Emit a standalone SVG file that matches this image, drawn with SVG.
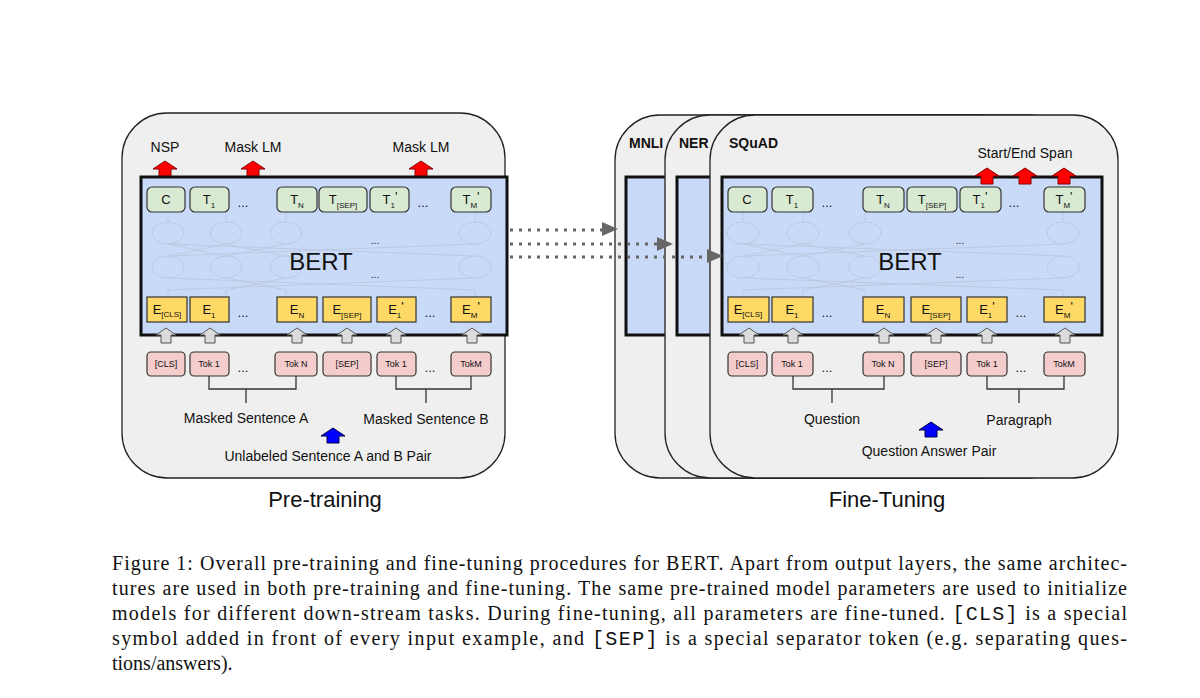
<svg xmlns="http://www.w3.org/2000/svg" width="1200" height="698" viewBox="0 0 1200 698">
<style>
.panel{fill:#efefef;stroke:#222;stroke-width:1.3}
.bert{fill:#c9daf8;stroke:#111;stroke-width:3}
.g{fill:#d9ead3;stroke:#333;stroke-width:1.2}
.y{fill:#ffd966;stroke:#333;stroke-width:1.2}
.p{fill:#f4cccc;stroke:#333;stroke-width:1.2}
.t{font-family:"Liberation Sans",Arial,sans-serif;fill:#111}
.lbl{font-size:14px;text-anchor:middle}
.tk{font-size:13px;text-anchor:middle}
.sm{font-size:9px;text-anchor:middle}
.dots{font-size:13px;text-anchor:middle}
.net{fill:none;stroke:#bccae0;stroke-width:1}
.br{fill:none;stroke:#333;stroke-width:1.3}
.cap{font-family:"Liberation Serif","Times New Roman",serif;font-size:20px;fill:#111}
.mono{font-family:"Liberation Mono","Courier New",monospace}
.dot{stroke:#666;stroke-width:3;stroke-dasharray:3,6;fill:none}
</style>
<defs>
<path id="ga" d="M-5,15 V7 H-10 L0,0 L10,7 H5 V15 Z" fill="#dcdcdc" stroke="#555" stroke-width="1"/>
<path id="ra" d="M-6,16 V8 H-12 L0,0 L12,8 H6 V16 Z" fill="#f00" stroke="#800" stroke-width="1"/>
<path id="ba" d="M-6,15 V8 H-12 L0,0 L12,8 H6 V15 Z" fill="#00f" stroke="#004" stroke-width="1"/>
<path id="ah" d="M0,-7 L16,0 L0,7 Z" fill="#666"/>
</defs>

<!-- Pre-training panel -->
<g id="pretraining">
<rect class="panel" x="122" y="113" width="383" height="365" rx="45"/>
<text class="t lbl" x="165" y="152">NSP</text>
<text class="t lbl" x="253" y="152">Mask LM</text>
<text class="t lbl" x="421" y="152">Mask LM</text>
<use href="#ra" x="165" y="161"/>
<use href="#ra" x="253" y="161"/>
<use href="#ra" x="421" y="161"/>
<rect class="bert" x="141" y="177" width="366" height="158"/>
<g class="net">
<ellipse cx="168" cy="233" rx="16" ry="11"/><ellipse cx="226" cy="233" rx="16" ry="11"/><ellipse cx="286" cy="233" rx="16" ry="11"/><ellipse cx="475" cy="233" rx="16" ry="11"/>
<ellipse cx="168" cy="267" rx="16" ry="11"/><ellipse cx="226" cy="267" rx="16" ry="11"/><ellipse cx="286" cy="267" rx="16" ry="11"/><ellipse cx="475" cy="267" rx="16" ry="11"/>
<path d="M168,244 L475,256 M475,244 L168,256 M226,244 L286,256 M286,244 L226,256 M168,244 L226,256 M226,244 L168,256 M168,278 L475,290 M475,278 L168,290 M226,278 L286,290 M286,278 L226,290 M168,212 V222 M226,212 V222 M286,212 V222 M475,212 V222 M168,290 V297 M226,290 V297 M286,290 V297 M475,290 V297"/>
</g>
<text class="t" x="375" y="244" font-size="10" fill="#aab" text-anchor="middle">...</text>
<text class="t" x="375" y="278" font-size="10" fill="#aab" text-anchor="middle">...</text>
<text class="t" x="321" y="270" font-size="24" text-anchor="middle">BERT</text>
<rect class="g" x="147" y="187" width="38" height="25" rx="5"/><text class="t tk" x="166" y="204">C</text>
<rect class="g" x="190" y="187" width="39" height="25" rx="5"/><text class="t tk" x="209" y="204">T<tspan dy="4" font-size="8">1</tspan></text>
<text class="t dots" x="243" y="207">...</text>
<rect class="g" x="277" y="187" width="40" height="25" rx="5"/><text class="t tk" x="297" y="204">T<tspan dy="4" font-size="8">N</tspan></text>
<rect class="g" x="319" y="187" width="48" height="25" rx="5"/><text class="t tk" x="343" y="204">T<tspan dy="4" font-size="8">[SEP]</tspan></text>
<rect class="g" x="370" y="187" width="39" height="25" rx="5"/><text class="t tk" x="390" y="204">T<tspan dy="4" font-size="8">1</tspan><tspan dy="-7">'</tspan></text>
<text class="t dots" x="423" y="207">...</text>
<rect class="g" x="451" y="187" width="40" height="25" rx="5"/><text class="t tk" x="471" y="204">T<tspan dy="4" font-size="8">M</tspan><tspan dy="-7">'</tspan></text>
<rect class="y" x="147" y="297" width="40" height="25"/><text class="t tk" x="167" y="314">E<tspan dy="3" font-size="8">[CLS]</tspan></text>
<rect class="y" x="190" y="297" width="39" height="25"/><text class="t tk" x="209" y="314">E<tspan dy="4" font-size="8">1</tspan></text>
<text class="t dots" x="243" y="317">...</text>
<rect class="y" x="277" y="297" width="40" height="25"/><text class="t tk" x="297" y="314">E<tspan dy="4" font-size="8">N</tspan></text>
<rect class="y" x="323" y="297" width="48" height="25"/><text class="t tk" x="347" y="314">E<tspan dy="4" font-size="8">[SEP]</tspan></text>
<rect class="y" x="377" y="297" width="39" height="25"/><text class="t tk" x="396" y="314">E<tspan dy="4" font-size="8">1</tspan><tspan dy="-7">'</tspan></text>
<text class="t dots" x="430" y="317">...</text>
<rect class="y" x="451" y="297" width="40" height="25"/><text class="t tk" x="471" y="314">E<tspan dy="4" font-size="8">M</tspan><tspan dy="-7">'</tspan></text>
<use href="#ga" x="166" y="328"/><use href="#ga" x="210" y="328"/><use href="#ga" x="297" y="328"/><use href="#ga" x="347" y="328"/><use href="#ga" x="396" y="328"/><use href="#ga" x="472" y="328"/>
<rect class="p" x="147" y="352" width="38" height="24" rx="4"/><text class="t sm" x="166" y="367">[CLS]</text>
<rect class="p" x="190" y="352" width="39" height="24" rx="4"/><text class="t sm" x="209" y="367">Tok 1</text>
<text class="t dots" x="243" y="372">...</text>
<rect class="p" x="275" y="352" width="42" height="24" rx="4"/><text class="t sm" x="296" y="367">Tok N</text>
<rect class="p" x="323" y="352" width="48" height="24" rx="4"/><text class="t sm" x="347" y="367">[SEP]</text>
<rect class="p" x="377" y="352" width="39" height="24" rx="4"/><text class="t sm" x="396" y="367">Tok 1</text>
<text class="t dots" x="430" y="372">...</text>
<rect class="p" x="451" y="352" width="40" height="24" rx="4"/><text class="t sm" x="471" y="367">TokM</text>
<path class="br" d="M209,376 V389 H296 V376 M246,389 V403 M396,376 V389 H471 V376 M426,389 V403"/>
<text class="t lbl" x="246" y="423">Masked Sentence A</text>
<text class="t lbl" x="426" y="424">Masked Sentence B</text>
<use href="#ba" x="333" y="428"/>
<text class="t lbl" x="328" y="461">Unlabeled Sentence A and B Pair</text>
</g>

<!-- Fine-tuning panels -->
<g id="mnli">
<rect class="panel" x="615" y="115" width="408" height="363" rx="45"/>
<rect class="bert" x="626" y="177" width="380" height="158"/>
<text class="t" x="629" y="148" font-size="14" font-weight="bold">MNLI</text>
</g>
<g id="ner">
<rect class="panel" x="665" y="115" width="408" height="363" rx="45"/>
<rect class="bert" x="677" y="177" width="380" height="158"/>
<text class="t" x="679" y="148" font-size="14" font-weight="bold">NER</text>
</g>
<g id="squad">
<rect class="panel" x="710" y="115" width="408" height="363" rx="45"/>
<text class="t" x="729" y="148" font-size="14" font-weight="bold">SQuAD</text>
<text class="t lbl" x="1025" y="158">Start/End Span</text>
<rect class="bert" x="722" y="177" width="380" height="158"/>
<use href="#ra" x="987" y="168"/><use href="#ra" x="1025" y="168"/><use href="#ra" x="1064" y="168"/>
<g class="net">
<ellipse cx="743" cy="233" rx="16" ry="11"/><ellipse cx="803" cy="233" rx="16" ry="11"/><ellipse cx="865" cy="233" rx="16" ry="11"/><ellipse cx="1063" cy="233" rx="16" ry="11"/>
<ellipse cx="743" cy="267" rx="16" ry="11"/><ellipse cx="803" cy="267" rx="16" ry="11"/><ellipse cx="865" cy="267" rx="16" ry="11"/><ellipse cx="1063" cy="267" rx="16" ry="11"/>
<path d="M743,244 L1063,256 M1063,244 L743,256 M803,244 L865,256 M865,244 L803,256 M743,244 L803,256 M803,244 L743,256 M743,278 L1063,290 M1063,278 L743,290 M803,278 L865,290 M865,278 L803,290 M743,212 V222 M803,212 V222 M865,212 V222 M1063,212 V222 M743,290 V297 M803,290 V297 M865,290 V297 M1063,290 V297"/>
</g>
<text class="t" x="960" y="244" font-size="10" fill="#aab" text-anchor="middle">...</text>
<text class="t" x="960" y="278" font-size="10" fill="#aab" text-anchor="middle">...</text>
<text class="t" x="910" y="270" font-size="24" text-anchor="middle">BERT</text>
<rect class="g" x="728" y="187" width="39" height="25" rx="5"/><text class="t tk" x="747" y="204">C</text>
<rect class="g" x="772" y="187" width="41" height="25" rx="5"/><text class="t tk" x="792" y="204">T<tspan dy="4" font-size="8">1</tspan></text>
<text class="t dots" x="827" y="207">...</text>
<rect class="g" x="863" y="187" width="41" height="25" rx="5"/><text class="t tk" x="883" y="204">T<tspan dy="4" font-size="8">N</tspan></text>
<rect class="g" x="907" y="187" width="50" height="25" rx="5"/><text class="t tk" x="932" y="204">T<tspan dy="4" font-size="8">[SEP]</tspan></text>
<rect class="g" x="960" y="187" width="41" height="25" rx="5"/><text class="t tk" x="980" y="204">T<tspan dy="4" font-size="8">1</tspan><tspan dy="-7">'</tspan></text>
<text class="t dots" x="1014" y="207">...</text>
<rect class="g" x="1044" y="187" width="41" height="25" rx="5"/><text class="t tk" x="1064" y="204">T<tspan dy="4" font-size="8">M</tspan><tspan dy="-7">'</tspan></text>
<rect class="y" x="728" y="297" width="41" height="25"/><text class="t tk" x="748" y="314">E<tspan dy="3" font-size="8">[CLS]</tspan></text>
<rect class="y" x="772" y="297" width="41" height="25"/><text class="t tk" x="792" y="314">E<tspan dy="4" font-size="8">1</tspan></text>
<text class="t dots" x="827" y="317">...</text>
<rect class="y" x="863" y="297" width="41" height="25"/><text class="t tk" x="883" y="314">E<tspan dy="4" font-size="8">N</tspan></text>
<rect class="y" x="911" y="297" width="50" height="25"/><text class="t tk" x="936" y="314">E<tspan dy="4" font-size="8">[SEP]</tspan></text>
<rect class="y" x="967" y="297" width="40" height="25"/><text class="t tk" x="987" y="314">E<tspan dy="4" font-size="8">1</tspan><tspan dy="-7">'</tspan></text>
<text class="t dots" x="1021" y="317">...</text>
<rect class="y" x="1044" y="297" width="41" height="25"/><text class="t tk" x="1064" y="314">E<tspan dy="4" font-size="8">M</tspan><tspan dy="-7">'</tspan></text>
<use href="#ga" x="749" y="328"/><use href="#ga" x="793" y="328"/><use href="#ga" x="884" y="328"/><use href="#ga" x="936" y="328"/><use href="#ga" x="987" y="328"/><use href="#ga" x="1065" y="328"/>
<rect class="p" x="728" y="352" width="39" height="24" rx="4"/><text class="t sm" x="747" y="367">[CLS]</text>
<rect class="p" x="772" y="352" width="41" height="24" rx="4"/><text class="t sm" x="792" y="367">Tok 1</text>
<text class="t dots" x="827" y="372">...</text>
<rect class="p" x="863" y="352" width="41" height="24" rx="4"/><text class="t sm" x="883" y="367">Tok N</text>
<rect class="p" x="911" y="352" width="50" height="24" rx="4"/><text class="t sm" x="936" y="367">[SEP]</text>
<rect class="p" x="967" y="352" width="40" height="24" rx="4"/><text class="t sm" x="987" y="367">Tok 1</text>
<text class="t dots" x="1021" y="372">...</text>
<rect class="p" x="1044" y="352" width="41" height="24" rx="4"/><text class="t sm" x="1064" y="367">TokM</text>
<path class="br" d="M793,376 V389 H884 V376 M832,389 V403 M987,376 V389 H1064 V376 M1019,389 V403"/>
<text class="t lbl" x="832" y="424">Question</text>
<text class="t lbl" x="1019" y="425">Paragraph</text>
<use href="#ba" x="931" y="422"/>
<text class="t lbl" x="929" y="456">Question Answer Pair</text>
</g>

<g id="connectors">
<path class="dot" d="M510,230 H602"/><use href="#ah" x="602" y="229"/>
<path class="dot" d="M510,244 H657"/><use href="#ah" x="657" y="244"/>
<path class="dot" d="M510,257 H707"/><use href="#ah" x="707" y="256"/>
</g>

<text class="t" x="325" y="507" font-size="22" text-anchor="middle">Pre-training</text>
<text class="t" x="887" y="507" font-size="22" text-anchor="middle">Fine-Tuning</text>

<g id="caption" class="cap">
<text x="112" y="570" textLength="1015" lengthAdjust="spacing">Figure 1: Overall pre-training and fine-tuning procedures for BERT. Apart from output layers, the same architec-</text>
<text x="112" y="595" textLength="1015" lengthAdjust="spacing">tures are used in both pre-training and fine-tuning. The same pre-trained model parameters are used to initialize</text>
<text x="112" y="620" textLength="1015" lengthAdjust="spacing">models for different down-stream tasks. During fine-tuning, all parameters are fine-tuned. <tspan class="mono">[CLS]</tspan> is a special</text>
<text x="112" y="645" textLength="1015" lengthAdjust="spacing">symbol added in front of every input example, and <tspan class="mono">[SEP]</tspan> is a special separator token (e.g. separating ques-</text>
<text x="112" y="670">tions/answers).</text>
</g>
</svg>
